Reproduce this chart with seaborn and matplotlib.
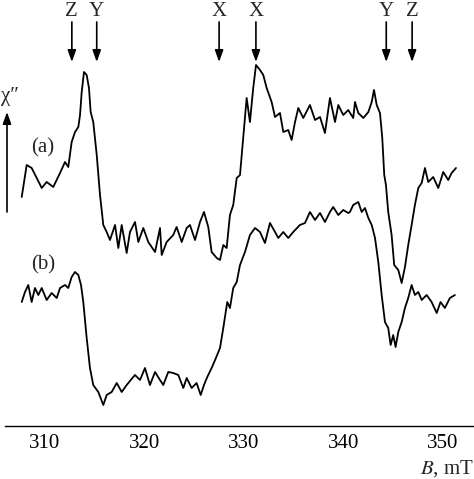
import numpy as np
import pandas as pd
import matplotlib
matplotlib.use("Agg")
import matplotlib.pyplot as plt
import seaborn as sns

# --- data (B in mT, signal in arbitrary units) --- #
b_a = [307.66, 308.16, 308.66, 309.17, 309.67, 310.17, 310.83, 311.51, 312.01, 312.34,
       312.68, 313.02, 313.35, 313.52, 313.69, 313.92, 314.19, 314.42, 314.59, 314.85,
       315.20, 315.53, 315.86, 316.20, 316.53, 317.04, 317.37, 317.71, 318.21, 318.54,
       319.05, 319.38, 319.88, 320.38, 321.06, 321.56, 321.73, 322.23, 322.89, 323.23,
       323.74, 324.24, 324.57, 325.08, 325.58, 325.98, 326.41, 326.75, 327.26, 327.59,
       327.92, 328.26, 328.59, 328.92, 329.27, 329.60, 329.93, 330.27, 330.60, 330.93,
       331.21, 331.61, 331.94, 332.28, 332.78, 333.12, 333.62, 333.95, 334.45, 334.79,
       335.13, 335.46, 335.96, 336.63, 337.14, 337.64, 338.14, 338.64, 339.15, 339.48,
       339.98, 340.48, 340.98, 341.16, 341.49, 342.00, 342.50, 342.84, 343.07, 343.34,
       343.67, 343.90, 344.10, 344.27, 344.50, 344.84, 345.10, 345.51, 345.85, 346.18,
       346.51, 346.85, 347.18, 347.52, 347.86, 348.19, 348.52, 349.02, 349.53, 350.03,
       350.53, 350.87, 351.31]
sig_a = [229, 261, 258, 248, 238, 244, 239, 253, 264, 259,
         284, 294, 299, 311, 334, 354, 351, 338, 314, 304,
         271, 231, 201, 194, 186, 201, 178, 201, 173, 194,
         204, 184, 198, 184, 174, 198, 171, 184, 191, 199,
         184, 198, 201, 186, 204, 214, 199, 174, 168, 166,
         181, 178, 211, 221, 248, 251, 289, 328, 304, 338,
         361, 356, 351, 338, 324, 309, 313, 294, 296, 286,
         304, 318, 308, 321, 306, 309, 293, 328, 304, 321,
         311, 316, 308, 324, 313, 308, 314, 324, 336, 321,
         313, 288, 251, 241, 214, 191, 161, 156, 143, 159,
         181, 201, 221, 238, 243, 258, 244, 249, 238, 254,
         246, 253, 258]

b_b = [307.66, 307.99, 308.32, 308.66, 308.99, 309.33, 309.67, 310.17, 310.67, 311.18,
       311.51, 312.01, 312.34, 312.68, 313.02, 313.35, 313.62, 313.85, 314.19, 314.52,
       314.85, 315.36, 315.86, 316.20, 316.70, 317.21, 317.71, 318.21, 318.87, 319.05,
       319.55, 320.05, 320.55, 321.06, 321.56, 321.89, 322.39, 322.89, 323.40, 323.90,
       324.24, 324.74, 325.24, 325.65, 325.98, 326.31, 326.75, 327.18, 327.59, 327.92,
       328.32, 328.59, 328.92, 329.27, 329.60, 330.10, 330.60, 331.11, 331.61, 332.11,
       332.61, 333.12, 333.45, 333.95, 334.45, 334.95, 335.62, 336.13, 336.63, 337.14,
       337.64, 338.14, 338.64, 338.97, 339.48, 339.98, 340.48, 340.65, 340.98, 341.49,
       341.83, 342.16, 342.50, 342.84, 343.17, 343.50, 343.84, 344.17, 344.50, 344.74,
       345.00, 345.24, 345.51, 345.85, 346.18, 346.51, 346.85, 347.18, 347.52, 347.86,
       348.36, 348.86, 349.37, 349.76, 350.19, 350.70, 351.20]
sig_b = [124, 134, 141, 124, 138, 131, 138, 126, 133, 128,
         138, 141, 138, 149, 154, 151, 141, 124, 88, 58,
         41, 34, 21, 31, 34, 43, 34, 41, 49, 51,
         46, 58, 41, 54, 46, 41, 54, 53, 51, 38,
         48, 38, 43, 31, 41, 49, 58, 68, 78, 98,
         124, 118, 138, 144, 161, 174, 191, 198, 194, 183,
         203, 194, 188, 194, 188, 194, 201, 203, 214, 206,
         213, 204, 214, 219, 211, 216, 213, 214, 221, 224,
         214, 218, 208, 201, 188, 164, 131, 104, 98, 81,
         91, 79, 94, 104, 118, 128, 141, 131, 134, 126,
         131, 124, 113, 124, 118, 128, 131]

marker_pos = [312.7, 315.2, 327.5, 331.2, 344.3, 346.9]
marker_lbl = ["Z", "Y", "X", "X", "Y", "Z"]
xticks = [310, 320, 330, 340, 350]

df = pd.concat([
    pd.DataFrame({"B": b_a, "sig": sig_a, "trace": "a"}),
    pd.DataFrame({"B": b_b, "sig": sig_b, "trace": "b"}),
], ignore_index=True)

sns.set_style("white")
plt.rcParams["font.family"] = ["Liberation Serif", "DejaVu Serif"]
plt.rcParams["mathtext.fontset"] = "stix"

fig = plt.figure(figsize=(4.74, 4.79), dpi=100)
ax = fig.add_axes([5 / 474, 53 / 479, 469 / 474, 426 / 479])

sns.lineplot(data=df, x="B", y="sig", hue="trace", palette=["black", "black"],
             estimator=None, sort=False, legend=False, linewidth=1.3, ax=ax)

ax.set_xlim(305.98, 353.12)
ax.set_ylim(0, 426)
for s in ["top", "left", "right"]:
    ax.spines[s].set_visible(False)
ax.spines["bottom"].set_color("black")
ax.spines["bottom"].set_linewidth(1.0)
ax.set_xticks(xticks)
ax.set_yticks([])
ax.tick_params(axis="x", direction="in", length=5, width=1, pad=6, labelsize=15, colors="black")
ax.set_xlabel("")
ax.set_ylabel("")

# marker arrows at the top
for pos, lbl in zip(marker_pos, marker_lbl):
    ax.annotate("", xy=(pos, 364), xytext=(pos, 404),
                arrowprops=dict(arrowstyle="-|>,head_length=0.7,head_width=0.25",
                                color="black", lw=1.2, shrinkA=0, shrinkB=0),
                annotation_clip=False)
    ax.text(pos, 415, lbl, ha="center", va="center", fontsize=15)

# intensity arrow on the left
ax.annotate("", xy=(306.18, 314), xytext=(306.18, 214),
            arrowprops=dict(arrowstyle="-|>,head_length=0.7,head_width=0.25",
                            color="black", lw=1.2, shrinkA=0, shrinkB=0),
            annotation_clip=False)
ax.text(305.6, 330, "χ″", ha="left", va="center", fontsize=15, clip_on=False)

ax.text(309.8, 278, "(a)", ha="center", va="center", fontsize=15)
ax.text(309.8, 161, "(b)", ha="center", va="center", fontsize=15)

fig.text(1.0, 0.022, "$B$, mT", ha="right", va="center", fontsize=15)

fig.savefig("out.png", dpi=100)
